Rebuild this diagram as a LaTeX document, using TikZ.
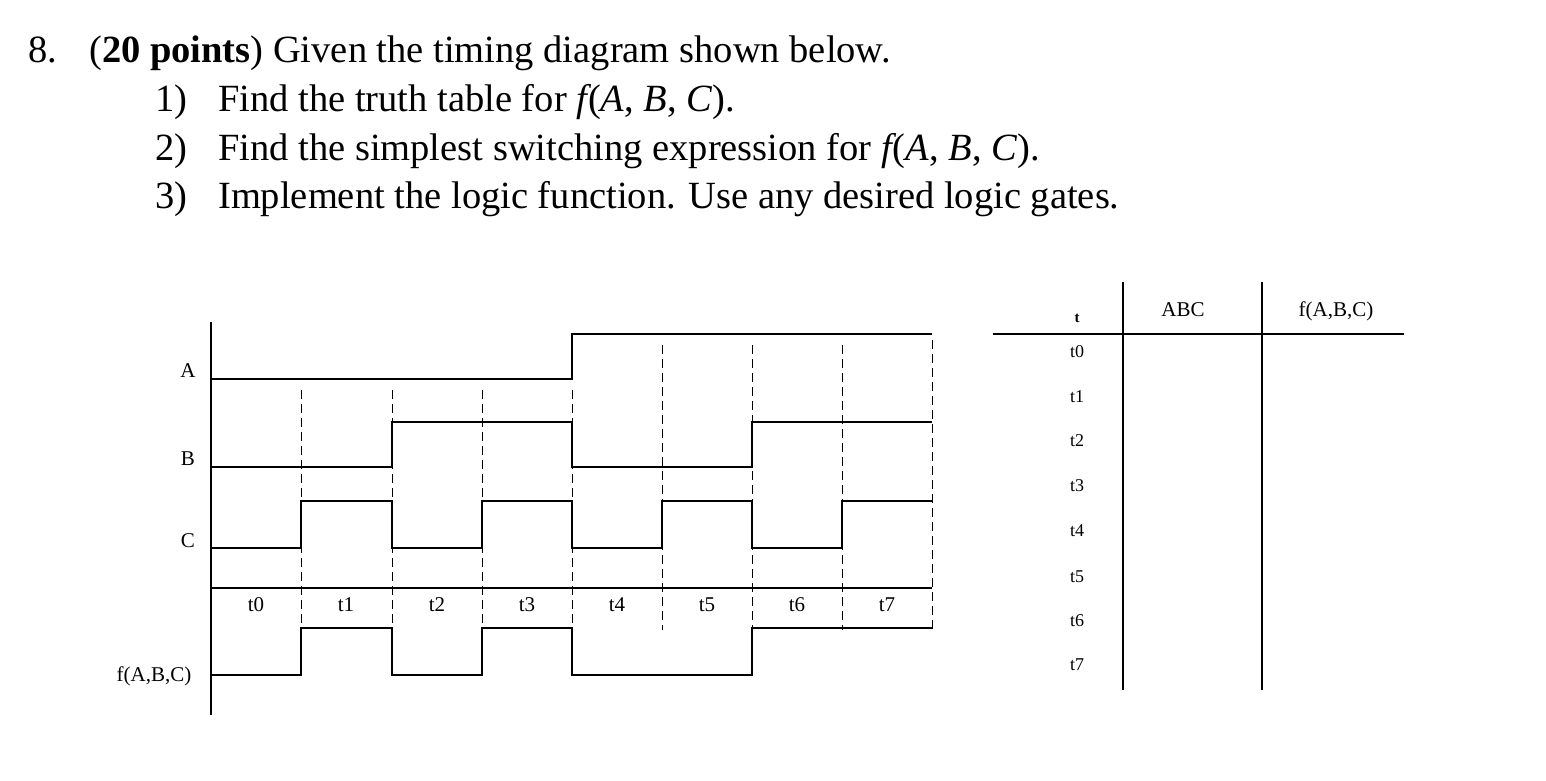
\documentclass[tikz,border=0pt]{standalone}
\usepackage{fontspec}
\setmainfont{Liberation Serif}
\newcommand{\fabc}{\textit{f\kern1pt}(\textit{A}, \textit{B}, \textit{C})}
\begin{document}
\begin{tikzpicture}[x=1pt,y=-1pt,
  sig/.style={line width=1.3pt},
  grid/.style={line width=0.9pt, dash pattern=on 9pt off 5pt},
  ttl/.style={anchor=base west, font=\fontsize{38.5}{42}\selectfont, inner sep=0},
  lbl/.style={font=\fontsize{21}{23}\selectfont, inner sep=0},
  tbl/.style={line width=1.2pt}]
\useasboundingbox (0,0) rectangle (1546,780);
% title
\node[ttl] (n8) at (28,62) {8.};
\node[ttl] (l0) at (89,62) {(\textbf{20 points}) Given the timing diagram shown below.};
\node[ttl] (k1) at (155,111) {1)};
\node[ttl] (k2) at (155,160) {2)};
\node[ttl] (k3) at (155,208) {3)};
\node[ttl] (l1) at (218,111) {Find the truth table for \fabc.};
\node[ttl] (l2) at (218,160) {Find the simplest switching expression for \fabc.};
\node[ttl] (l3) at (218,208) {Implement the logic function. Use any desired logic gates.};
% axes
\coordinate (ax1) at (211,322); \coordinate (ax2) at (211,715);
\draw[sig] (ax1) -- (ax2);
\coordinate (h1) at (211,588); \coordinate (h2) at (932,588);
\draw[sig] (h1) -- (h2);
% dashed boundaries
\foreach \x/\y in {301/390,392/390,482/390,572/390,662/345,752/345,842/345,932/340}{
  \draw[grid] (\x,\y) -- (\x,630);
}
% signals
\draw[sig] (211,379) -- (572,379) -- (572,334) -- (932,334);
\draw[sig] (211,467) -- (392,467) -- (392,422) -- (572,422) -- (572,467) -- (752,467) -- (752,422) -- (932,422);
\draw[sig] (211,548) -- (301,548) -- (301,501) -- (392,501) -- (392,548) -- (482,548) -- (482,501) -- (572,501) -- (572,548) -- (662,548) -- (662,501) -- (752,501) -- (752,548) -- (842,548) -- (842,501) -- (932,501);
\draw[sig] (211,675) -- (301,675) -- (301,628) -- (392,628) -- (392,675) -- (482,675) -- (482,628) -- (572,628) -- (572,675) -- (752,675) -- (752,628) -- (932,628);
% labels
\node[lbl] (la) at (188,371) {A};
\node[lbl] (lb) at (188,459) {B};
\node[lbl] (lc) at (188,541) {C};
\node[lbl] (lf) at (154,676) {f(A,B,C)};
\foreach \i/\x in {0/256,1/346,2/437,3/527,4/617,5/707,6/797,7/887}{
  \node[lbl] (tt\i) at (\x,605) {t\i};
}
% table
\draw[tbl] (1123,282) -- (1123,690);
\draw[tbl] (1262,282) -- (1262,690);
\draw[tbl] (993,334) -- (1404,334);
\node[lbl, font=\fontsize{15}{17}\selectfont\bfseries] (th) at (1077,318) {t};
\node[lbl] (tabc) at (1183,310) {ABC};
\node[lbl] (tf) at (1336,311) {f(A,B,C)};
\foreach \i/\y in {0/352,1/397,2/441,3/486,4/531,5/577,6/621,7/665}{
  \node[lbl, font=\fontsize{18}{20}\selectfont] (r\i) at (1077,\y) {t\i};
}
\end{tikzpicture}
\end{document}
